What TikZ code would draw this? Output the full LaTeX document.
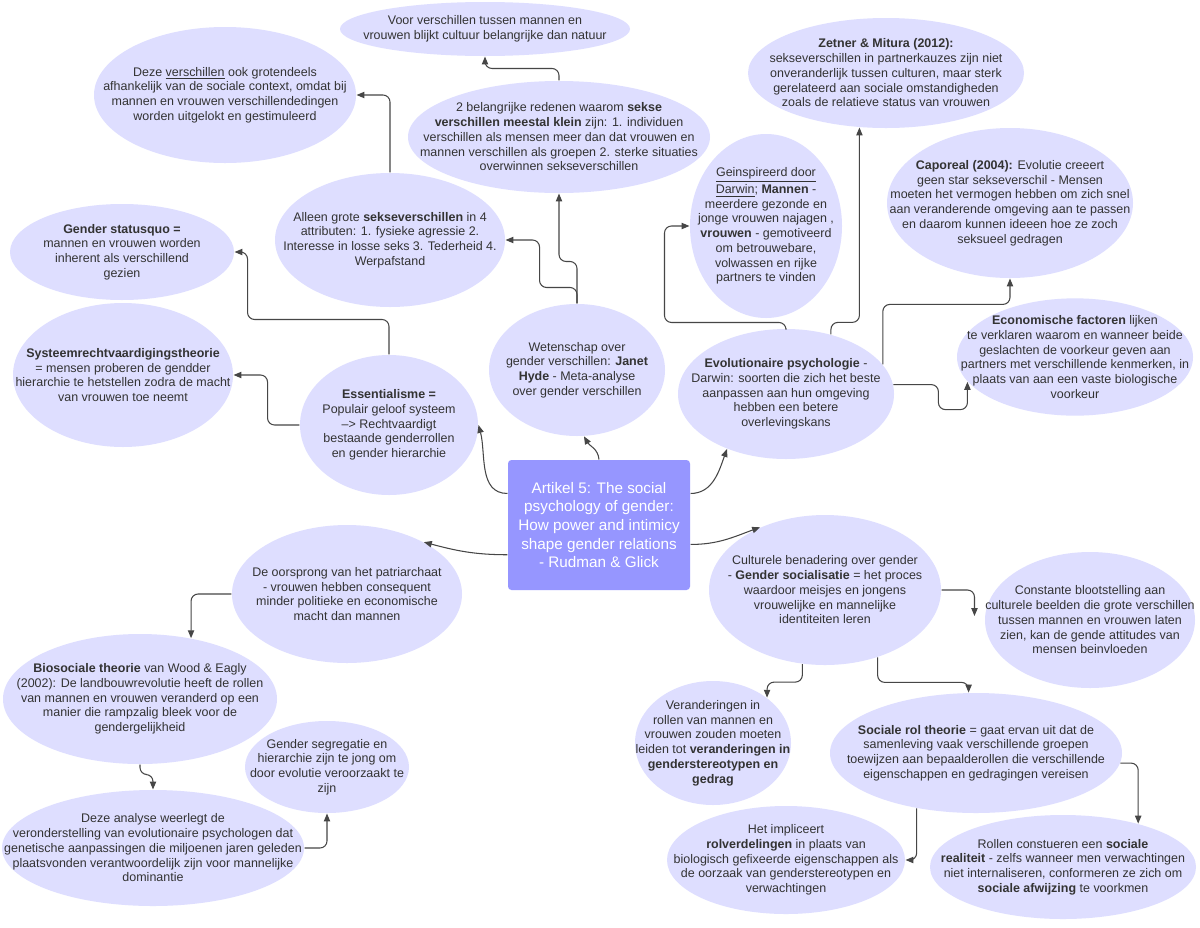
\documentclass[tikz,border=0pt]{standalone}
\usepackage{fontspec}
\setmainfont{Liberation Sans}
\usepackage{tikz}
\usetikzlibrary{shapes.geometric,arrows.meta,positioning,calc}
\definecolor{bubblefill}{RGB}{222,222,255}
\definecolor{boxfill}{RGB}{150,150,255}
\definecolor{textgray}{RGB}{51,51,51}
\definecolor{linegray}{RGB}{70,70,70}

\begin{document}
\begin{tikzpicture}[x=0.02cm, y=-0.02cm, >={Triangle[length=4.5pt,width=3.6pt]}, line width=0.6pt,
	bubble/.style={ellipse, fill=bubblefill, text=textgray, inner xsep=-60pt, inner ysep=0pt, align=center, font=\fontsize{7.1}{8.4}\selectfont},
	ell/.style 2 args={minimum width=#1*0.02cm, minimum height=#2*0.02cm},
	mainbox/.style={rectangle, rounded corners=2pt, fill=boxfill, text=white, align=center, font=\fontsize{8.7}{10.6}\selectfont},
	conn/.style={->, draw=linegray, rounded corners=4pt}]
	\fill[white] (0,0) rectangle (1200,927);
	\useasboundingbox (0,0) rectangle (1200,927);

	% centre
	\node [mainbox, ell={182}{130}] (box) at (599,525) {Artikel 5: The social\\psychology of gender:\\How power and intimicy\\shape gender relations\\- Rudman \& Glick};

	% upper left
	\node [bubble, ell={290}{54}] (voor) at (485,29) {Voor verschillen tussen mannen en\\vrouwen blijkt cultuur belangrijke dan natuur};
	\node [bubble, ell={262}{136}] (deze) at (225,95) {Deze \underline{verschillen} ook grotendeels\\afhankelijk van de sociale context, omdat bij\\mannen en vrouwen verschillendedingen\\worden uitgelokt en gestimuleerd};
	\node [bubble, ell={302}{112}] (bel) at (559,137) {2 belangrijke redenen waarom \textbf{sekse}\\\textbf{verschillen meestal klein} zijn: 1. individuen\\verschillen als mensen meer dan dat vrouwen en\\mannen verschillen als groepen 2. sterke situaties\\overwinnen sekseverschillen};
	\node [bubble, ell={230}{134}] (alleen) at (390,240) {Alleen grote \textbf{sekseverschillen} in 4\\attributen: 1. fysieke agressie 2.\\Interesse in losse seks 3. Tederheid 4.\\Werpafstand};
	\node [bubble, ell={224}{96}] (gsq) at (122,252) {\textbf{Gender statusquo =}\\mannen en vrouwen worden\\inherent als verschillend\\gezien};
	\node [bubble, ell={220}{144}] (sys) at (123,375) {\textbf{Systeemrechtvaardigingstheorie}\\= mensen proberen de gendder\\hierarchie te hetstellen zodra de macht\\van vrouwen toe neemt};
	\node [bubble, ell={178}{140}] (ess) at (389,425) {\textbf{Essentialisme =}\\Populair geloof systeem\\--> Rechtvaardigt\\bestaande genderrollen\\en gender hierarchie};
	\node [bubble, ell={176}{132}] (wet) at (577,370) {Wetenschap over\\gender verschillen: \textbf{Janet}\\\textbf{Hyde} - Meta-analyse\\over gender verschillen};

	% upper right
	\node [bubble, ell={276}{110}] (zet) at (886,73) {\textbf{Zetner \& Mitura (2012):}\\sekseverschillen in partnerkauzes zijn niet\\onveranderlijk tussen culturen, maar sterk\\gerelateerd aan sociale omstandigheden\\zoals de relatieve status van vrouwen};
	\node [bubble, ell={152}{184}] (gein) at (766,226) {\underline{Geinspireerd door}\\\underline{Darwin}; \textbf{Mannen} -\\meerdere gezonde en\\jonge vrouwen najagen ,\\\textbf{vrouwen} - gemotiveerd\\om betrouwebare,\\volwassen en rijke\\partners te vinden};
	\node [bubble, ell={246}{150}] (cap) at (1010,203) {\textbf{Caporeal (2004):} Evolutie creeert\\geen star sekseverschil - Mensen\\moeten het vermogen hebben om zich snel\\aan veranderende omgeving aan te passen\\en daarom kunnen ideeen hoe ze zoch\\seksueel gedragen};
	\node [bubble, ell={216}{130}] (evol) at (786,394) {\textbf{Evolutionaire psychologie} -\\Darwin: soorten die zich het beste\\aanpassen aan hun omgeving\\hebben een betere\\overlevingskans};
	\node [bubble, ell={236}{116}] (eco) at (1075,357) {\textbf{Economische factoren} lijken\\te verklaren waarom en wanneer beide\\geslachten de voorkeur geven aan\\partners met verschillende kenmerken, in\\plaats van aan een vaste biologische\\voorkeur};

	% lower left
	\node [bubble, ell={230}{138}] (pat) at (347,594) {De oorsprong van het patriarchaat\\- vrouwen hebben consequent\\minder politieke en economische\\macht dan mannen};
	\node [bubble, ell={274}{130}] (bio) at (140,699) {\textbf{Biosociale theorie} van Wood \& Eagly\\(2002): De landbouwrevolutie heeft de rollen\\van mannen en vrouwen veranderd op een\\manier die rampzalig bleek voor de\\gendergelijkheid};
	\node [bubble, ell={164}{92}] (gseg) at (327,767) {Gender segregatie en\\hierarchie zijn te jong om\\door evolutie veroorzaakt te\\zijn};
	\node [bubble, ell={302}{116}] (dana) at (153,848) {Deze analyse weerlegt de\\veronderstelling van evolutionaire psychologen dat\\genetische aanpassingen die miljoenen jaren geleden\\plaatsvonden verantwoordelijk zijn voor mannelijke\\dominantie};

	% lower right
	\node [bubble, ell={232}{150}] (cult) at (825,590) {Culturele benadering over gender\\- \textbf{Gender socialisatie} = het proces\\waardoor meisjes en jongens\\vrouwelijke en mannelijke\\identiteiten leren};
	\node [bubble, ell={210}{136}] (const) at (1090,620) {Constante blootstelling aan\\culturele beelden die grote verschillen\\tussen mannen en vrouwen laten\\zien, kan de gende attitudes van\\mensen beinvloeden};
	\node [bubble, ell={156}{124}] (verand) at (713,743) {Veranderingen in\\rollen van mannen en\\vrouwen zouden moeten\\leiden tot \textbf{veranderingen in}\\\textbf{genderstereotypen en}\\\textbf{gedrag}};
	\node [bubble, ell={292}{120}] (soc) at (976,753) {\textbf{Sociale rol theorie} = gaat ervan uit dat de\\samenleving vaak verschillende groepen\\toewijzen aan bepaalderollen die verschillende\\eigenschappen en gedragingen vereisen};
	\node [bubble, ell={238}{108}] (het) at (786,860) {Het impliceert\\\textbf{rolverdelingen} in plaats van\\biologisch gefixeerde eigenschappen als\\de oorzaak van genderstereotypen en\\verwachtingen};
	\node [bubble, ell={266}{104}] (rol) at (1063,867) {Rollen constueren een \textbf{sociale}\\\textbf{realiteit} - zelfs wanneer men verwachtingen\\niet internaliseren, conformeren ze zich om\\\textbf{sociale afwijzing} te voorkmen};

	% from the centre
	\draw [conn] (box.161) to[out=180, in=-75] (ess.east);
	\draw [conn] (box.north) to[out=95, in=-60] (wet.-84);
	\draw [conn] (box.19) to[out=0, in=-110] (evol.-137);
	\draw [conn] (box.-12) to[out=0, in=-160] (cult.136);
	\draw [conn] (box.-162) to[out=180, in=-15] (pat.34);

	% upper left branches
	\draw [conn] (wet.north) -- ++(0,-42) -| (bel.south);
	\draw [conn] (wet.north) -- ++(0,-16) -| ($(alleen.east)+(34,0)$) -- (alleen.east);
	\draw [conn] (alleen.north) |- (deze.east);
	\draw [conn] (bel.north) -- ++(0,-12) -| (voor.south);
	\draw [conn] (ess.north) -- ++(0,-35) -| ($(gsq.east)+(13,0)$) -- (gsq.east);
	\draw [conn] (ess.west) -| ($(sys.east)+(34,0)$) -- (sys.east);

	% upper right branches
	\draw [conn] (evol.north) -- ++(0,-6) -| ($(gein.west)+(-25,0)$) -- (gein.west);
	\draw [conn] (evol.53) -- ++(0,-12) -| (zet.-116);
	\draw [conn] (evol.17) -- ++(0,-60) -| (cap.south);
	\draw [conn] (evol.5) -| ++(45,25) -| (eco.193);

	% lower branches
	\draw [conn] (pat.west) -| (bio.50);
	\draw [conn] (bio.south) -- ++(0,10) -| (dana.north);
	\draw [conn] (dana.east) -| (gseg.south);
	\draw [conn] (cult.east) -| ($(const.west)+(-10,-4)$);
	\draw [conn] (cult.-107) -- ++(0,18) -| (verand.40);
	\draw [conn] (cult.-52) -- ++(0,25) -| (soc.97);
	\draw [conn] (soc.-137) |- (het.east);
	\draw [conn] (soc.-4) -| (rol.30);
\end{tikzpicture}
\end{document}
